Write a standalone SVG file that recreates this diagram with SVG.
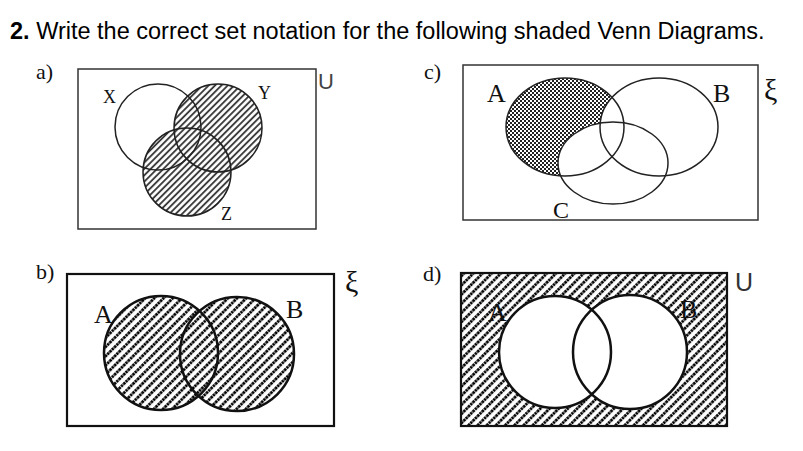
<svg xmlns="http://www.w3.org/2000/svg" width="803" height="451" viewBox="0 0 803 451">
<style>
.t{font-family:"Liberation Sans",Arial,sans-serif;font-size:23.5px;fill:#000}
.s{font-family:"Liberation Serif","Times New Roman",serif;fill:#111}
.o{fill:none;stroke:#222;stroke-width:1.5}
.ob{fill:none;stroke:#111;stroke-width:2.5}
.box{fill:#fff;stroke:#333;stroke-width:1.5}
</style>
<defs>
<pattern id="hA" width="4.5" height="4.5" patternUnits="userSpaceOnUse" patternTransform="rotate(45)">
<rect width="4.5" height="4.5" fill="#fff"/><line x1="1" y1="0" x2="1" y2="4.5" stroke="#333" stroke-width="1.8"/>
</pattern>
<pattern id="hB" width="6.5" height="6.5" patternUnits="userSpaceOnUse" patternTransform="rotate(45)">
<rect width="6.5" height="6.5" fill="#fff"/><line x1="1.5" y1="0" x2="1.5" y2="6.5" stroke="#000" stroke-width="2.8" stroke-dasharray="2.5 0.8"/>
</pattern>
<pattern id="ck" width="4" height="4" patternUnits="userSpaceOnUse">
<rect width="4" height="4" fill="#fff"/><rect width="2" height="2" fill="#222"/><rect x="2" y="2" width="2" height="2" fill="#222"/>
</pattern>
<clipPath id="notBC"><path clip-rule="evenodd" d="M463 65H758V220H463Z M718 127a59 49 0 1 0 -118 0a59 49 0 1 0 118 0Z"/></clipPath>
<clipPath id="notC"><path clip-rule="evenodd" d="M463 65H758V220H463Z M668 163a55 41 0 1 0 -110 0a55 41 0 1 0 110 0Z"/></clipPath>
</defs>
<text x="10" y="39" class="t"><tspan font-weight="bold">2.</tspan> Write the correct set notation for the following shaded Venn Diagrams.</text>

<g id="panel-a">
<text x="36" y="79" class="s" style="font-size:22px">a)</text>
<rect x="78" y="69" width="238" height="160" class="box"/>
<text x="318" y="89" style="font-family:'Liberation Sans',sans-serif;font-size:22px;fill:#444">U</text>
<circle cx="218" cy="128" r="44" fill="url(#hA)"/>
<circle cx="187" cy="172" r="44" fill="url(#hA)"/>
<circle cx="158" cy="127" r="43" class="o"/>
<circle cx="218" cy="128" r="44" class="o"/>
<circle cx="187" cy="172" r="44" class="o"/>
<text x="103" y="103" class="s" style="font-size:18px">X</text>
<text x="258" y="99" class="s" style="font-size:18px">Y</text>
<text x="221" y="220" class="s" style="font-size:18px">Z</text>
</g>

<g id="panel-c">
<text x="424" y="79" class="s" style="font-size:22px">c)</text>
<rect x="463" y="65" width="295" height="155" class="box"/>
<g clip-path="url(#notBC)"><ellipse cx="565" cy="127" rx="59" ry="49" fill="url(#ck)" clip-path="url(#notC)"/></g>
<ellipse cx="565" cy="127" rx="59" ry="49" class="o"/>
<ellipse cx="659" cy="127" rx="59" ry="49" class="o"/>
<ellipse cx="613" cy="163" rx="55" ry="41" class="o"/>
<text x="487" y="102" class="s" style="font-size:26px">A</text>
<text x="713" y="102" class="s" style="font-size:26px">B</text>
<text x="553" y="218" class="s" style="font-size:24px">C</text>
<text x="764" y="100" class="s" style="font-size:30px">ξ</text>
</g>

<g id="panel-b">
<text x="36" y="279" class="s" style="font-size:22px">b)</text>
<rect x="67" y="274" width="267" height="152" fill="#fff" stroke="#111" stroke-width="2.2"/>
<text x="345" y="292" class="s" style="font-size:30px">ξ</text>
<circle cx="161" cy="353" r="57" fill="url(#hB)"/>
<circle cx="237" cy="354" r="57" fill="url(#hB)"/>
<circle cx="161" cy="353" r="57" class="ob"/>
<circle cx="237" cy="354" r="57" class="ob"/>
<text x="94" y="323" class="s" style="font-size:26px">A</text>
<text x="286" y="318" class="s" style="font-size:26px">B</text>
</g>

<g id="panel-d">
<text x="423" y="281" class="s" style="font-size:22px">d)</text>
<rect x="461" y="273" width="266" height="153" fill="url(#hB)" stroke="#111" stroke-width="2.2"/>
<circle cx="555" cy="352" r="56" fill="#fff"/>
<circle cx="630" cy="352" r="57" fill="#fff"/>
<circle cx="555" cy="352" r="56" class="ob"/>
<circle cx="630" cy="352" r="57" class="ob"/>
<text x="488" y="321" class="s" style="font-size:26px">A</text>
<text x="680" y="318" class="s" style="font-size:26px">B</text>
<text x="735" y="291" style="font-family:'Liberation Sans',sans-serif;font-size:25px;fill:#333">U</text>
</g>
</svg>
